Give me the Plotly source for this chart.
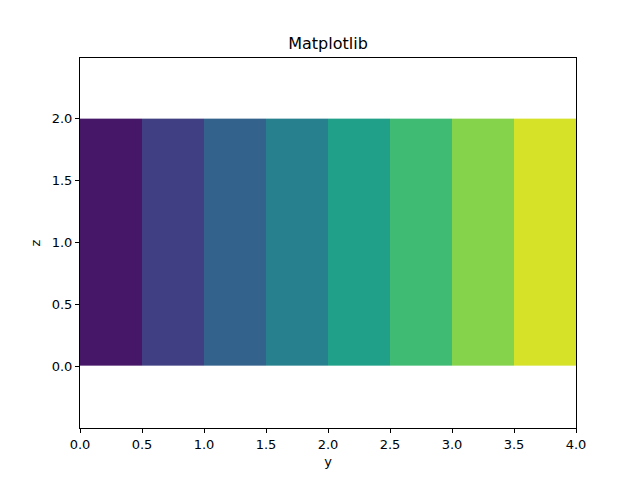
import plotly.graph_objects as go

# cell edges along y (horizontal) and z (vertical), one value per column
y_edges = [0.0, 0.5, 1.0, 1.5, 2.0, 2.5, 3.0, 3.5, 4.0]
z_edges = [0.0, 2.0]
values = [[0, 1, 2, 3, 4, 5, 6, 7]]

x_ticks = [0.0, 0.5, 1.0, 1.5, 2.0, 2.5, 3.0, 3.5, 4.0]
y_ticks = [0.0, 0.5, 1.0, 1.5, 2.0]

fig = go.Figure()
fig.add_trace(go.Heatmap(x=y_edges, y=z_edges, z=values,
                         colorscale='Viridis', zmin=-0.5, zmax=7.5,
                         showscale=False, hoverinfo='skip'))

axis_style = dict(showgrid=False, zeroline=False, showline=True, linecolor='black',
                  linewidth=1, mirror=True, ticks='outside', ticklen=4,
                  tickcolor='black', tickfont=dict(size=13, color='black'))

# the page body adds an 8px offset, so margins are shifted to compensate
fig.update_layout(
    width=640, height=480,
    margin=dict(l=72, r=72, t=50, b=60),
    paper_bgcolor='white', plot_bgcolor='white',
    font=dict(family='DejaVu Sans', color='black'),
    title=dict(text='Matplotlib', x=0.5, xanchor='center', xref='paper',
               y=1 - 35 / 480, yanchor='middle', font=dict(size=16)),
    xaxis=dict(range=[0, 4], tickvals=x_ticks, ticktext=['%.1f' % v for v in x_ticks],
               title=dict(text='y', font=dict(size=13), standoff=6), **axis_style),
    yaxis=dict(range=[-0.5, 2.49], tickvals=y_ticks, ticktext=['%.1f' % v for v in y_ticks],
               title=dict(text='z', font=dict(size=13), standoff=8), **axis_style),
)

fig.write_html("out.html")
